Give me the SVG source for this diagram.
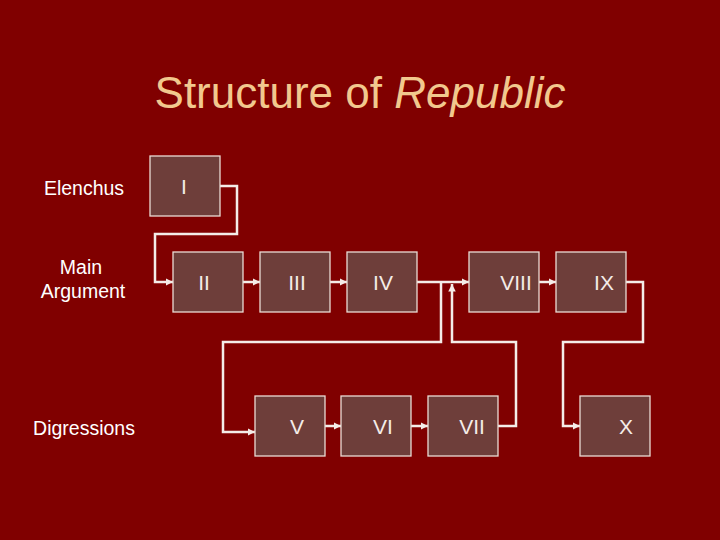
<svg xmlns="http://www.w3.org/2000/svg" width="720" height="540" viewBox="0 0 720 540">
<style>
.b{fill:#6e3e3a;stroke:#eadcd4;stroke-width:1.3}
.t{font-family:"Liberation Sans",Arial,sans-serif;font-size:21px;fill:#f4ece8;text-anchor:middle}
.l{font-family:"Liberation Sans",Arial,sans-serif;font-size:19.5px;fill:#ffffff;text-anchor:middle}
.c{fill:none;stroke:#f4ece8;stroke-width:2.5}
</style>
<defs><marker id="a" viewBox="0 0 10 10" refX="10" refY="5" markerWidth="3" markerHeight="3" orient="auto"><path d="M0,0L10,5L0,10z" fill="#f4ece8"/></marker></defs>
<rect width="720" height="540" fill="#800000"/>
<text x="360" y="108" font-family="'Liberation Sans',Arial,sans-serif" font-size="44" fill="#f2c88e" text-anchor="middle">Structure of <tspan font-style="italic">Republic</tspan></text>
<text class="l" x="84" y="195">Elenchus</text>
<text class="l" x="81" y="274">Main</text>
<text class="l" x="83" y="298">Argument</text>
<text class="l" x="84" y="435">Digressions</text>
<g id="connectors">
<path class="c" marker-end="url(#a)" d="M220,186H237V234H155V282H173"/>
<path class="c" marker-end="url(#a)" d="M243,282H260"/>
<path class="c" marker-end="url(#a)" d="M330,282H347"/>
<path class="c" marker-end="url(#a)" d="M417,282H469"/>
<path class="c" marker-end="url(#a)" d="M441,282V342H223V432H255"/>
<path class="c" marker-end="url(#a)" d="M325,426H341"/>
<path class="c" marker-end="url(#a)" d="M411,426H428"/>
<path class="c" marker-end="url(#a)" d="M498,426H516V342H452V284"/>
<path class="c" marker-end="url(#a)" d="M539,282H556"/>
<path class="c" marker-end="url(#a)" d="M626,282H643V342H563V426H580"/>
</g>
<g id="n1"><rect class="b" x="150" y="156" width="70" height="60"/><text class="t" x="184" y="194">I</text></g>
<g id="n2"><rect class="b" x="173" y="252" width="70" height="60"/><text class="t" x="204" y="290">II</text></g>
<g id="n3"><rect class="b" x="260" y="252" width="70" height="60"/><text class="t" x="297" y="290">III</text></g>
<g id="n4"><rect class="b" x="347" y="252" width="70" height="60"/><text class="t" x="383" y="290">IV</text></g>
<g id="n8"><rect class="b" x="469" y="252" width="70" height="60"/><text class="t" x="516" y="290">VIII</text></g>
<g id="n9"><rect class="b" x="556" y="252" width="70" height="60"/><text class="t" x="604" y="290">IX</text></g>
<g id="n5"><rect class="b" x="255" y="396" width="70" height="60"/><text class="t" x="297" y="434">V</text></g>
<g id="n6"><rect class="b" x="341" y="396" width="70" height="60"/><text class="t" x="383" y="434">VI</text></g>
<g id="n7"><rect class="b" x="428" y="396" width="70" height="60"/><text class="t" x="472" y="434">VII</text></g>
<g id="n10"><rect class="b" x="580" y="396" width="70" height="60"/><text class="t" x="626" y="434">X</text></g>
</svg>
